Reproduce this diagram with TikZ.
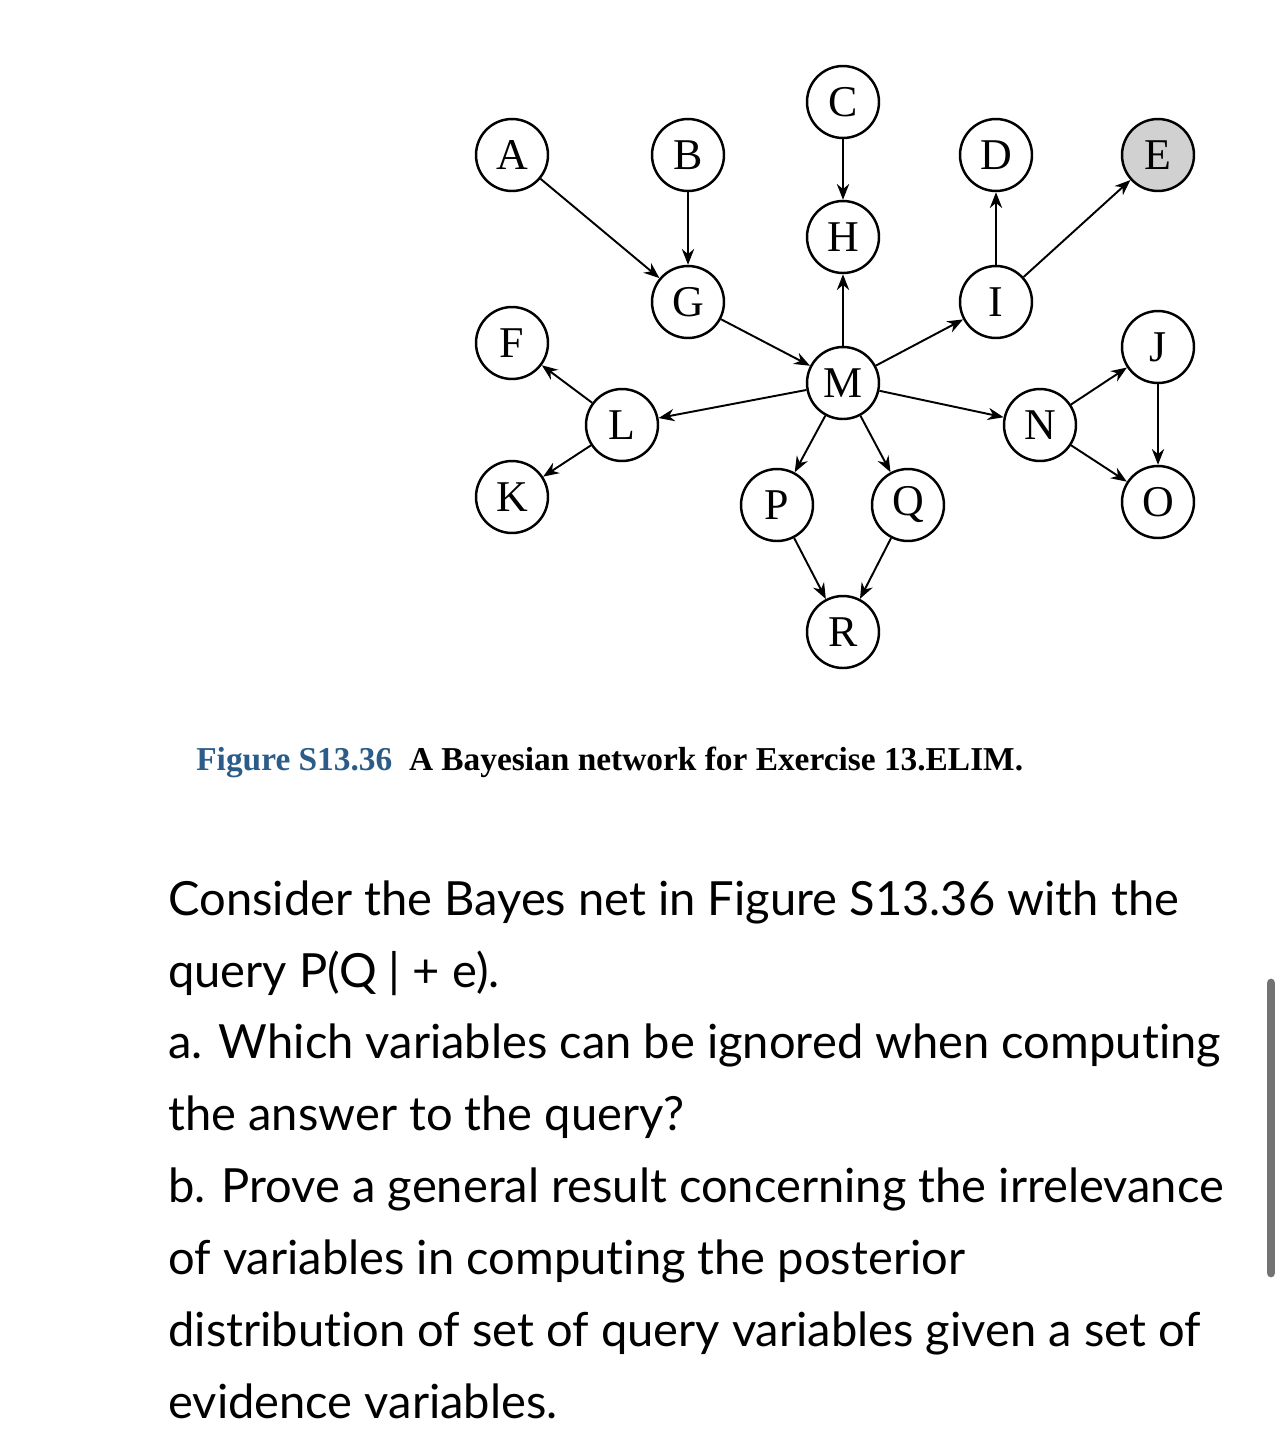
\documentclass[tikz,border=0pt]{standalone}
\usepackage{fontspec}
\setmainfont{Liberation Serif}
\newfontfamily\lato[Ligatures=NoCommon]{Lato}
\usetikzlibrary{arrows.meta}
\definecolor{capblue}{HTML}{2B5C8A}
\begin{document}
\begin{tikzpicture}[x=0.02cm,y=-0.02cm,
  v/.style={circle,draw,line width=1.4pt,minimum size=1.44cm,inner sep=0pt,font=\fontsize{25}{25}\selectfont},
  e/.style={-{Stealth[length=9pt,width=7pt]},line width=1.1pt},
  tl/.style={anchor=base west,inner sep=0pt,font=\lato\fontsize{26.8}{26.8}\selectfont}]
\useasboundingbox (0,0) rectangle (1284,1445);
\node[v] (A) at (512,155) {A};
\node[v] (B) at (688,155) {B};
\node[v] (C) at (843,102) {C};
\node[v] (D) at (996,155) {D};
\node[v,fill=black!18] (E) at (1158,155) {E};
\node[v] (H) at (843,237) {H};
\node[v] (G) at (688,302) {G};
\node[v] (I) at (996,302) {I};
\node[v] (F) at (512,343) {F};
\node[v] (J) at (1158,347) {J};
\node[v] (M) at (843,383) {M};
\node[v] (L) at (622,425) {L};
\node[v] (N) at (1040,425) {N};
\node[v] (K) at (512,497) {K};
\node[v] (P) at (777,505) {P};
\node[v] (Q) at (908,505) {Q};
\node[v] (O) at (1158,502) {O};
\node[v] (R) at (843,632) {R};
\foreach \a/\b in {A/G,B/G,C/H,G/M,M/H,M/I,I/D,I/E,M/L,L/F,L/K,M/P,M/Q,M/N,N/J,N/O,J/O,P/R,Q/R}
  \draw[e] (\a) -- (\b);
\node[anchor=base west,inner sep=0pt,font=\bfseries\fontsize{19}{19}\selectfont] (cap) at (196,770)
  {\textcolor{capblue}{Figure S13.36}\hspace{0.5em}A Bayesian network for Exercise 13.ELIM.};
\node[tl] (t1) at (168,915) {Consider the Bayes net in Figure S13.36 with the};
\node[tl] (t2) at (168,987) {query P(Q | + e).};
\node[tl] (t3) at (168,1058) {a. Which variables can be ignored when computing};
\node[tl] (t4) at (168,1130) {the answer to the query?};
\node[tl] (t5) at (168,1202) {b. Prove a general result concerning the irrelevance};
\node[tl] (t6) at (168,1274) {of variables in computing the posterior};
\node[tl] (t7) at (168,1346) {distribution of set of query variables given a set of};
\node[tl] (t8) at (168,1418) {evidence variables.};
\draw[line width=5pt,line cap=round,black!55] (1271,983) -- (1271,1273);
\end{tikzpicture}
\end{document}
